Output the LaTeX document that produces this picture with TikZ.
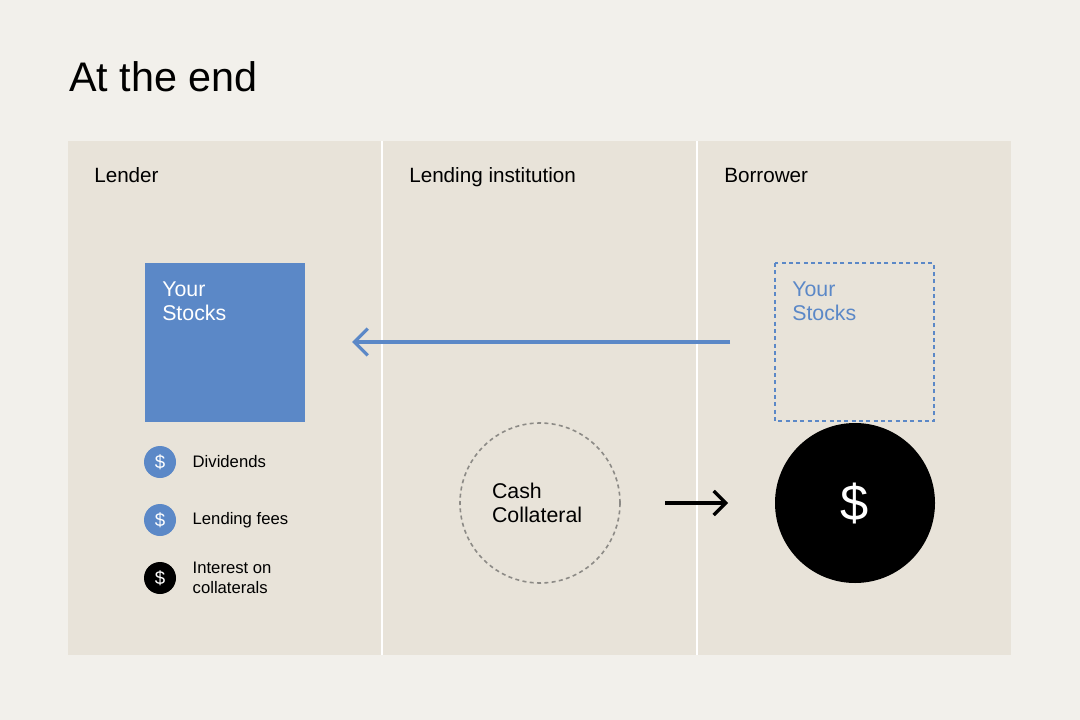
\documentclass[tikz,border=0pt]{standalone}
\usepackage{fontspec}
\setmainfont{Liberation Sans}
\usetikzlibrary{arrows.meta}
\definecolor{bg}{HTML}{F2F0EB}
\definecolor{panel}{HTML}{E8E3D9}
\definecolor{blu}{HTML}{5B88C7}
\definecolor{gry}{HTML}{8C8A86}
\tikzset{x=0.75pt,y=-0.75pt,
 hdr/.style={anchor=base west,font=\fontsize{15.5}{18}\selectfont},
 coin/.style={circle,minimum size=24pt,inner sep=0pt,text=white,font=\fontsize{14}{14}\selectfont},
 lbl/.style={anchor=west,align=left,font=\fontsize{12.5}{15}\selectfont},
 stk/.style={anchor=north west,align=left,font=\fontsize{16}{17.5}\selectfont}}
\begin{document}
\begin{tikzpicture}
\fill[bg] (0,0) rectangle (1080,720);
\useasboundingbox (0,0) rectangle (1080,720);
\node[anchor=base west,inner sep=0pt,font=\fontsize{31}{36}\selectfont] (title) at (69,92) {At the end};
\fill[panel] (68,141) rectangle (1011,655);
\draw[white,line width=1.5pt] (382,141) -- (382,655) (697,141) -- (697,655);
\node[hdr,inner sep=0pt] (h1) at (94,183) {Lender};
\node[hdr,inner sep=0pt] (h2) at (409,183) {Lending institution};
\node[hdr,inner sep=0pt] (h3) at (724,183) {Borrower};
\fill[blu] (145,263) rectangle (305,422);
\node[stk,text=white,inner sep=0pt] (s1) at (162,282) {Your\\Stocks};
\draw[blu,line width=1.2pt,dash pattern=on 3pt off 2.5pt] (775,263) rectangle (934,421);
\node[stk,text=blu,inner sep=0pt] (s2) at (792,282) {Your\\Stocks};
\coordinate (a1) at (730,342); \coordinate (a2) at (352,342);
\draw[blu,line width=2.5pt,-{Straight Barb[length=10pt,width=20pt,line width=2.5pt]}] (a1) -- (a2);
\node[circle,draw=gry,line width=1.2pt,dash pattern=on 3pt off 2.5pt,minimum size=120pt,text width=72pt,align=left,font=\fontsize{16}{18}\selectfont] (cash) at (540,503) {Cash\\Collateral};
\node[circle,fill=black,minimum size=120pt,text=white,font=\fontsize{38}{38}\selectfont] (big) at (855,503) {\$};
\coordinate (b1) at (665,503); \coordinate (b2) at (728,503);
\draw[black,line width=2.5pt,-{Straight Barb[length=9pt,width=18pt,line width=2.5pt]}] (b1) -- (b2);
\node[coin,fill=blu] (c1) at (160,462) {\$};
\node[coin,fill=blu] (c2) at (160,520) {\$};
\node[coin,fill=black] (c3) at (160,578) {\$};
\node[lbl] (l1) at (188,462) {Dividends};
\node[lbl] (l2) at (188,520) {Lending fees};
\node[lbl] (l3) at (188,578) {Interest on\\collaterals};
\end{tikzpicture}
\end{document}
